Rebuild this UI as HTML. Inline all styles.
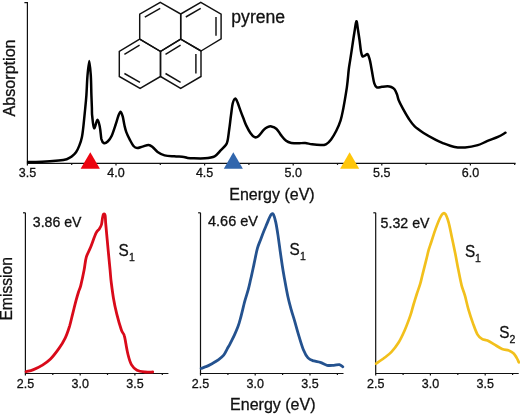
<!DOCTYPE html>
<html><head><meta charset="utf-8"><style>
html,body{margin:0;padding:0;background:#fff;}
svg{display:block;}
svg{font-family:"Liberation Sans",Arial,sans-serif;} text{fill:#111;stroke:#111;stroke-width:0.3px;}
</style></head><body>
<svg width="520" height="415" viewBox="0 0 520 415">
<rect width="520" height="415" fill="#fff"/>
<g fill="none" stroke="#111" stroke-width="1.45" stroke-linejoin="miter" stroke-linecap="butt"><path d="M160.3,2.4 L180.7,14.0 L180.7,39.1 L160.5,51.5 L139.7,39.2 L139.7,14.2Z"/><path d="M200.8,2.4 L221.1,14.1 L221.1,38.8 L201.0,51.0 L180.7,39.1 L180.7,14.0Z"/><path d="M139.7,39.2 L160.5,51.5 L160.5,76.5 L140.1,88.3 L119.3,76.5 L119.3,51.4Z"/><path d="M180.7,39.1 L201.0,51.0 L201.0,76.5 L180.7,88.3 L160.5,76.5 L160.5,51.5Z"/><path d="M144.8,17.2 L160.2,8.3"/><path d="M185.8,17.0 L200.7,8.4"/><path d="M216.0,17.1 L216.0,35.8"/><path d="M124.4,54.3 L139.6,45.2"/><path d="M124.4,73.5 L140.0,82.4"/><path d="M165.5,54.4 L180.6,45.1"/><path d="M195.9,54.0 L195.9,73.5"/><path d="M165.5,73.5 L180.6,82.3"/></g>
<text x="231.3" y="22.8" style="font-size:17.6px">pyrene</text>
<g fill="none" stroke="#111" stroke-width="1.2">
<path d="M24.4,2.7 H27.4 V163.4 H515.6"/>
<path d="M27.4,163.4 V165.6"/><path d="M116.0,163.4 V165.6"/><path d="M204.6,163.4 V165.6"/><path d="M293.2,163.4 V165.6"/><path d="M381.8,163.4 V165.6"/><path d="M470.4,163.4 V165.6"/><path d="M71.7,163.4 V164.9"/><path d="M160.3,163.4 V164.9"/><path d="M248.9,163.4 V164.9"/><path d="M337.5,163.4 V164.9"/><path d="M426.1,163.4 V164.9"/><path d="M514.7,163.4 V164.9"/>
<path d="M25.4,212.8 V373.5 H168.4"/><path d="M23.0,212.8 H25.4"/><path d="M25.4,373.5 V375.5"/><path d="M80.2,373.5 V375.5"/><path d="M134.9,373.5 V375.5"/><path d="M52.8,373.5 V375.0"/><path d="M107.5,373.5 V375.0"/><path d="M162.3,373.5 V375.0"/><path d="M200.5,212.8 V373.5 H343.5"/><path d="M198.1,212.8 H200.5"/><path d="M200.5,373.5 V375.5"/><path d="M255.2,373.5 V375.5"/><path d="M310.0,373.5 V375.5"/><path d="M227.9,373.5 V375.0"/><path d="M282.6,373.5 V375.0"/><path d="M337.4,373.5 V375.0"/><path d="M375.7,212.8 V373.5 H518.7"/><path d="M373.3,212.8 H375.7"/><path d="M375.7,373.5 V375.5"/><path d="M430.4,373.5 V375.5"/><path d="M485.2,373.5 V375.5"/><path d="M403.1,373.5 V375.0"/><path d="M457.8,373.5 V375.0"/><path d="M512.6,373.5 V375.0"/>
</g>
<g style="font-size:12.5px"><text x="27.4" y="177.4" text-anchor="middle">3.5</text><text x="116.0" y="177.4" text-anchor="middle">4.0</text><text x="204.6" y="177.4" text-anchor="middle">4.5</text><text x="293.2" y="177.4" text-anchor="middle">5.0</text><text x="381.8" y="177.4" text-anchor="middle">5.5</text><text x="470.4" y="177.4" text-anchor="middle">6.0</text><text x="25.4" y="387.9" text-anchor="middle">2.5</text><text x="80.2" y="387.9" text-anchor="middle">3.0</text><text x="134.9" y="387.9" text-anchor="middle">3.5</text><text x="200.5" y="387.9" text-anchor="middle">2.5</text><text x="255.2" y="387.9" text-anchor="middle">3.0</text><text x="310.0" y="387.9" text-anchor="middle">3.5</text><text x="375.7" y="387.9" text-anchor="middle">2.5</text><text x="430.4" y="387.9" text-anchor="middle">3.0</text><text x="485.2" y="387.9" text-anchor="middle">3.5</text></g>
<text transform="translate(14.9,116.4) rotate(-90)" style="font-size:16.1px">Absorption</text>
<text transform="translate(12.2,320.6) rotate(-90)" style="font-size:15.7px">Emission</text>
<text x="229.3" y="199.6" style="font-size:16px">Energy (eV)</text>
<text x="230.1" y="410.3" style="font-size:16px">Energy (eV)</text>
<path d="M28.0,162.0 C30.3,162.0 36.9,162.0 42.0,161.8 C47.1,161.6 54.6,161.0 58.7,160.6 C62.8,160.2 64.5,159.9 66.7,159.2 C68.9,158.5 70.2,157.8 71.7,156.6 C73.2,155.4 74.7,154.1 76.0,152.3 C77.3,150.5 78.3,148.1 79.3,145.6 C80.3,143.1 81.2,140.6 81.9,137.2 C82.6,133.8 83.0,130.2 83.5,125.4 C84.0,120.6 84.7,113.5 85.2,108.5 C85.7,103.5 86.0,100.6 86.4,95.1 C86.8,89.6 87.0,81.3 87.5,75.6 C88.0,69.9 88.8,61.0 89.3,61.0 C89.8,61.0 90.4,69.9 90.8,75.6 C91.2,81.3 91.2,89.7 91.4,95.1 C91.6,100.5 91.8,104.7 91.9,108.2 C92.0,111.7 91.8,112.7 92.2,116.0 C92.6,119.3 93.2,127.6 94.1,128.2 C95.0,128.8 96.5,119.9 97.5,119.8 C98.5,119.7 99.2,124.2 99.9,127.4 C100.6,130.6 100.8,136.5 101.4,139.1 C102.1,141.7 102.8,142.6 103.8,143.0 C104.8,143.4 106.4,142.7 107.7,141.5 C109.0,140.3 110.3,138.8 111.6,136.0 C112.9,133.2 114.4,128.4 115.5,125.0 C116.6,121.6 117.6,118.0 118.4,115.8 C119.2,113.6 119.9,111.7 120.6,111.8 C121.3,111.9 122.0,114.1 122.7,116.4 C123.4,118.7 123.9,122.9 124.5,125.5 C125.1,128.1 125.4,129.7 126.3,132.1 C127.2,134.5 128.7,137.6 129.9,139.9 C131.1,142.2 132.3,144.6 133.5,146.0 C134.7,147.4 135.6,148.0 137.1,148.1 C138.6,148.2 140.6,147.1 142.5,146.6 C144.4,146.1 146.9,144.8 148.6,144.9 C150.3,145.0 151.3,146.0 152.8,147.2 C154.3,148.4 155.6,150.6 157.6,152.0 C159.6,153.4 161.8,154.7 164.6,155.4 C167.4,156.1 171.0,156.1 174.2,156.3 C177.4,156.6 181.6,156.6 183.8,156.9 C186.1,157.2 186.1,157.7 187.7,157.9 C189.3,158.1 190.6,158.2 193.5,158.3 C196.4,158.4 201.5,158.6 205.0,158.3 C208.5,158.0 211.9,157.7 214.6,156.3 C217.2,155.0 219.0,152.1 220.9,150.2 C222.8,148.3 224.9,146.4 226.0,144.8 C227.1,143.2 227.0,143.3 227.6,140.6 C228.2,137.9 228.7,133.0 229.3,128.8 C229.9,124.6 230.4,119.5 231.0,115.3 C231.6,111.1 232.0,106.3 232.7,103.5 C233.4,100.7 234.4,98.8 235.2,98.6 C236.0,98.4 236.8,100.6 237.6,102.5 C238.4,104.4 239.4,107.7 240.3,110.2 C241.2,112.8 242.2,115.3 243.2,117.8 C244.2,120.3 245.0,122.9 246.2,125.4 C247.4,127.9 249.0,131.0 250.4,133.0 C251.8,135.0 253.3,136.7 254.6,137.2 C255.9,137.7 256.8,137.4 258.3,136.2 C259.8,135.0 262.2,131.4 263.7,129.9 C265.2,128.4 266.2,127.8 267.5,127.2 C268.8,126.6 269.9,126.1 271.4,126.4 C272.9,126.7 275.0,127.5 276.6,129.0 C278.2,130.4 279.4,133.1 281.0,135.1 C282.6,137.1 284.4,139.5 286.1,140.8 C287.8,142.1 289.3,142.5 291.3,142.9 C293.3,143.3 296.0,143.3 298.3,143.3 C300.6,143.3 302.9,142.8 305.2,143.0 C307.5,143.2 309.5,144.0 312.1,144.3 C314.7,144.7 318.4,145.1 320.7,145.1 C323.0,145.1 324.2,145.2 325.9,144.3 C327.6,143.4 329.4,141.7 331.1,139.4 C332.8,137.2 334.7,134.0 336.3,130.8 C337.9,127.6 339.4,124.2 340.6,120.4 C341.8,116.6 342.3,113.5 343.4,108.0 C344.4,102.5 346.0,93.4 346.9,87.1 C347.8,80.8 348.2,74.4 348.7,70.0 C349.2,65.6 349.5,64.6 350.1,60.6 C350.7,56.6 351.6,50.9 352.3,46.1 C353.0,41.3 353.8,35.9 354.5,31.7 C355.2,27.5 355.8,21.5 356.4,21.2 C357.0,20.9 357.5,26.8 358.0,30.0 C358.5,33.2 359.1,36.9 359.6,40.5 C360.1,44.1 360.5,48.8 361.0,51.5 C361.5,54.2 361.9,55.9 362.6,56.5 C363.3,57.1 364.5,55.7 365.3,55.3 C366.1,54.9 367.0,53.6 367.7,54.2 C368.4,54.8 369.0,57.1 369.6,59.1 C370.2,61.1 370.6,63.8 371.1,66.4 C371.6,69.1 372.1,72.2 372.6,75.0 C373.1,77.8 373.6,81.3 374.3,83.4 C375.0,85.5 375.5,86.8 376.8,87.4 C378.1,88.0 380.1,87.0 381.9,86.8 C383.7,86.6 385.9,86.3 387.5,86.3 C389.1,86.3 390.0,86.5 391.2,87.0 C392.4,87.5 393.5,88.1 394.5,89.3 C395.5,90.5 396.3,92.6 397.0,94.4 C397.7,96.2 397.7,97.9 398.7,100.3 C399.7,102.7 401.2,105.6 402.9,108.7 C404.6,111.8 406.8,115.8 408.8,118.8 C410.8,121.8 412.2,124.0 414.7,126.4 C417.2,128.8 420.5,130.9 424.0,133.2 C427.5,135.4 432.6,138.2 435.8,139.9 C439.0,141.6 440.2,142.1 443.4,143.3 C446.5,144.5 451.1,146.3 454.7,147.0 C458.3,147.7 461.2,147.7 465.1,147.4 C469.0,147.1 474.2,146.1 477.8,145.1 C481.4,144.1 483.6,142.6 487.0,141.2 C490.4,139.8 495.4,138.0 498.5,136.6 C501.6,135.2 504.3,133.3 505.5,132.7" fill="none" stroke="#000" stroke-width="2.5" stroke-linejoin="round" stroke-linecap="round"/>
<path d="M90.3,152.2 L99.9,168.7 L80.6,168.7Z" fill="#ec0510"/>
<path d="M233.3,152.2 L242.9,168.7 L223.8,168.7Z" fill="#3166ad"/>
<path d="M349.6,152.2 L359.2,168.7 L340.1,168.7Z" fill="#ffc60a"/>
<path d="M26.1,371.7 C27.3,371.4 30.9,370.7 33.5,369.6 C36.1,368.6 39.2,367.2 42.0,365.4 C44.8,363.6 47.7,361.8 50.5,359.0 C53.3,356.2 56.5,351.9 59.0,348.4 C61.5,344.9 63.5,341.5 65.3,337.8 C67.1,334.1 68.3,330.2 69.6,326.1 C70.8,322.0 71.7,317.6 72.8,313.4 C73.9,309.1 75.0,304.2 76.0,300.6 C77.0,297.0 77.7,294.6 78.5,292.0 C79.3,289.4 79.9,288.9 80.8,285.3 C81.7,281.7 83.2,274.8 84.1,270.1 C85.0,265.4 85.2,260.9 86.3,257.1 C87.4,253.3 89.0,251.3 90.6,247.3 C92.2,243.3 94.5,236.3 96.0,233.2 C97.5,230.1 98.4,230.3 99.3,228.9 C100.2,227.5 101.0,226.3 101.5,224.5 C102.0,222.7 102.2,219.7 102.5,218.0 C102.8,216.3 103.2,214.5 103.6,214.1 C104.0,213.7 104.7,213.7 105.1,215.4 C105.5,217.1 105.3,219.0 105.8,224.5 C106.3,230.0 107.3,240.8 108.0,248.4 C108.7,256.0 109.6,264.5 110.1,270.1 C110.6,275.7 110.6,277.3 111.2,282.0 C111.8,286.7 112.6,293.1 113.5,298.5 C114.4,303.9 115.5,308.9 116.8,314.1 C118.1,319.3 120.1,326.2 121.3,329.8 C122.5,333.4 123.5,333.1 124.2,335.4 C125.0,337.6 125.2,340.1 125.8,343.3 C126.4,346.5 127.1,350.9 128.0,354.5 C128.9,358.1 129.9,362.0 131.4,364.6 C132.9,367.2 134.8,369.0 137.0,370.2 C139.2,371.4 142.2,371.7 144.8,372.0 C147.4,372.3 151.4,372.0 152.7,372.0" fill="none" stroke="#d90a1a" stroke-width="2.8" stroke-linejoin="round" stroke-linecap="round"/>
<path d="M201.2,368.4 C202.0,368.1 204.4,367.4 206.1,366.6 C207.8,365.9 209.5,365.0 211.5,363.9 C213.5,362.8 216.3,361.4 218.3,359.9 C220.3,358.4 222.2,356.9 223.7,355.1 C225.2,353.3 226.1,350.9 227.1,349.1 C228.1,347.3 229.1,345.6 229.8,344.3 C230.5,343.0 230.5,343.0 231.3,341.4 C232.1,339.8 233.4,337.3 234.5,334.9 C235.6,332.5 236.9,329.4 237.9,326.8 C238.9,324.2 239.2,323.3 240.3,319.0 C241.5,314.7 243.5,306.1 244.8,301.2 C246.1,296.3 247.3,293.1 248.3,289.4 C249.3,285.7 249.8,283.1 250.8,278.8 C251.8,274.5 253.0,268.7 254.1,263.6 C255.2,258.5 256.3,252.4 257.4,248.4 C258.5,244.4 259.5,242.6 260.6,239.7 C261.7,236.8 262.8,233.7 263.9,231.0 C265.0,228.3 266.2,225.6 267.1,223.4 C268.0,221.2 268.6,219.6 269.3,218.0 C270.0,216.4 270.8,214.6 271.5,214.1 C272.2,213.6 272.9,213.4 273.6,214.8 C274.3,216.2 275.1,219.0 275.8,222.4 C276.5,225.8 277.3,230.7 278.0,235.4 C278.7,240.1 279.4,245.6 280.1,250.6 C280.8,255.6 281.6,261.0 282.3,265.7 C283.0,270.4 283.6,273.7 284.5,278.8 C285.4,283.9 286.7,291.1 287.8,296.2 C288.9,301.3 290.1,305.6 291.2,309.7 C292.3,313.8 293.3,316.4 294.6,320.9 C295.9,325.4 297.6,331.8 299.1,336.6 C300.6,341.5 302.0,346.4 303.5,350.0 C305.0,353.6 306.3,356.1 308.0,357.9 C309.7,359.7 311.5,360.1 313.6,360.8 C315.7,361.6 318.1,361.6 320.4,362.4 C322.6,363.1 324.9,364.8 327.1,365.3 C329.3,365.8 331.8,365.4 333.8,365.3 C335.9,365.2 337.9,364.4 339.4,364.6 C340.9,364.9 342.2,366.4 342.8,366.8" fill="none" stroke="#24528f" stroke-width="2.8" stroke-linejoin="round" stroke-linecap="round"/>
<path d="M376.2,363.7 C377.6,362.7 381.8,359.8 384.4,357.8 C386.9,355.8 389.1,354.4 391.5,351.9 C393.9,349.3 396.4,346.0 398.6,342.5 C400.8,339.0 402.5,335.2 404.5,330.7 C406.5,326.2 408.9,319.7 410.4,315.4 C411.9,311.1 412.3,308.6 413.4,305.0 C414.5,301.4 415.7,297.5 416.8,294.0 C417.9,290.5 419.2,287.3 420.2,283.9 C421.2,280.5 421.7,277.7 422.7,273.8 C423.7,269.9 425.1,264.2 426.1,260.3 C427.1,256.4 427.8,253.2 428.6,250.2 C429.5,247.2 430.0,245.9 431.2,242.3 C432.4,238.8 434.1,233.0 435.6,228.9 C437.1,224.8 438.8,220.5 440.0,218.0 C441.2,215.5 441.9,214.3 442.8,213.7 C443.7,213.0 444.4,212.6 445.4,214.1 C446.4,215.6 447.5,218.5 448.6,222.4 C449.7,226.3 450.8,232.4 451.9,237.5 C453.0,242.6 454.0,247.3 455.1,252.7 C456.2,258.1 457.3,264.7 458.4,270.1 C459.5,275.5 460.5,281.0 461.6,285.3 C462.7,289.6 464.0,292.1 465.1,296.2 C466.2,300.3 467.2,305.2 468.5,309.7 C469.8,314.2 471.4,319.0 472.9,323.1 C474.4,327.2 475.9,331.7 477.4,334.3 C478.9,336.9 480.2,337.8 481.9,338.8 C483.6,339.9 485.4,339.7 487.5,340.6 C489.6,341.5 491.8,343.0 494.2,344.4 C496.6,345.8 499.7,347.9 502.1,348.9 C504.5,349.9 506.9,349.8 508.8,350.5 C510.7,351.2 512.4,352.2 513.7,353.4 C515.0,354.6 515.8,356.4 516.7,357.9 C517.6,359.4 518.5,361.6 518.9,362.4" fill="none" stroke="#f2c01c" stroke-width="2.7" stroke-linejoin="round" stroke-linecap="round"/>
<g style="font-size:14px">
<text x="32.8" y="226.7" style="font-size:14.1px">3.86 eV</text>
<text x="208.0" y="226.2" style="font-size:14.5px">4.66 eV</text>
<text x="380.6" y="228.0" style="font-size:14.2px">5.32 eV</text>
</g>
<g style="font-size:17px">
<text transform="translate(118.6,256.2) scale(0.9,1)">S</text>
<text transform="translate(289.6,255.4) scale(0.9,1)">S</text>
<text transform="translate(464.9,256.7) scale(0.9,1)">S</text>
<text transform="translate(499.3,338.4) scale(0.9,1)">S</text>
</g>
<g style="font-size:10.5px">
<text x="128.9" y="260.9">1</text>
<text x="299.9" y="260.0">1</text>
<text x="475.0" y="261.5">1</text>
<text x="509.5" y="343.0">2</text>
</g>
</svg>
</body></html>
